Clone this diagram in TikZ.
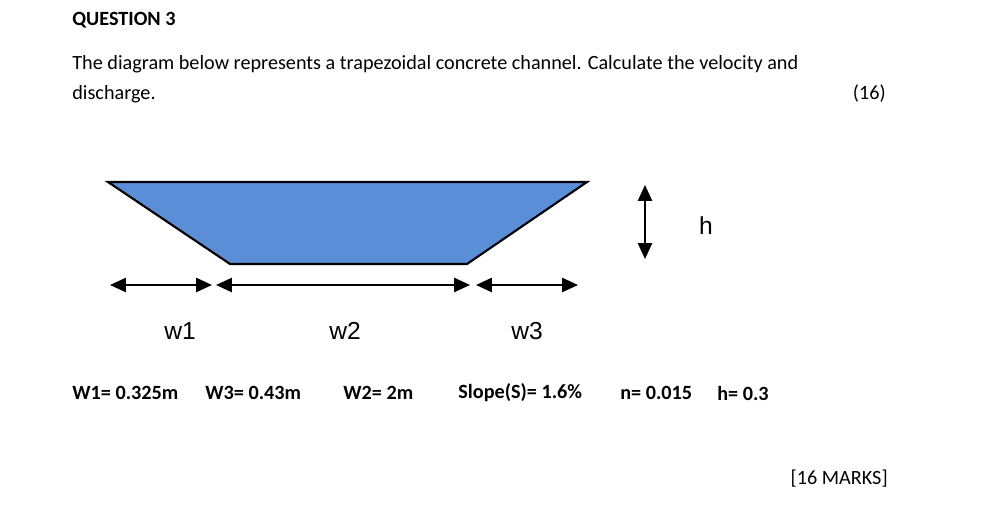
\documentclass[tikz,border=0pt]{standalone}
\usepackage{fontspec}
\setmainfont{Carlito}
\newfontfamily\arial{Liberation Sans}
\usetikzlibrary{arrows.meta}
\definecolor{chan}{HTML}{5A8ED6}
\begin{document}
\begin{tikzpicture}[x=0.02cm,y=-0.02cm,
 txt/.style={anchor=west,inner sep=0,font=\fontsize{11.5pt}{13pt}\selectfont},
 lbl/.style={inner sep=0,font=\arial\fontsize{14pt}{16pt}\selectfont},
 dim/.style={line width=1.2pt,{Triangle[length=9pt,width=8pt]}-{Triangle[length=9pt,width=8pt]}}]
\useasboundingbox (0,0) rectangle (1007,526);
\node[txt,font=\bfseries\fontsize{11.5pt}{13pt}\selectfont] (q) at (72,20) {QUESTION 3};
\node[txt] (l1) at (72,64) {The diagram below represents a trapezoidal concrete channel. Calculate the velocity and};
\node[txt] (l2) at (72,94) {discharge.};
\node[txt,anchor=east] (m) at (886,94) {(16)};
\draw[fill=chan,line width=1.2pt] (108,182) -- (587,182) -- (467,264) -- (230,264) -- cycle;
\coordinate (a1) at (110,285); \coordinate (a2) at (212,285);
\coordinate (b1) at (216,285); \coordinate (b2) at (470,285);
\coordinate (c1) at (476,285); \coordinate (c2) at (578,285);
\coordinate (h1) at (645,185); \coordinate (h2) at (645,259);
\draw[dim] (a1) -- (a2);
\draw[dim] (b1) -- (b2);
\draw[dim] (c1) -- (c2);
\draw[dim] (h1) -- (h2);
\node[lbl] (w1) at (180,331) {w1};
\node[lbl] (w2) at (345,331) {w2};
\node[lbl] (w3) at (527,331) {w3};
\node[lbl] (h) at (706,226) {h};
\begin{scope}[every node/.style={txt,font=\bfseries\fontsize{11.5pt}{13pt}\selectfont}]
\node (d1) at (72,393) {W1= 0.325m};
\node (d2) at (205,393) {W3= 0.43m};
\node (d3) at (343,393) {W2= 2m};
\node (d4) at (458,393) {Slope(S)= 1.6\%};
\node (d5) at (620,393) {n= 0.015};
\node (d6) at (717,393) {h= 0.3};
\end{scope}
\node[txt,anchor=east] (mk) at (888,479) {[16 MARKS]};
\end{tikzpicture}
\end{document}
